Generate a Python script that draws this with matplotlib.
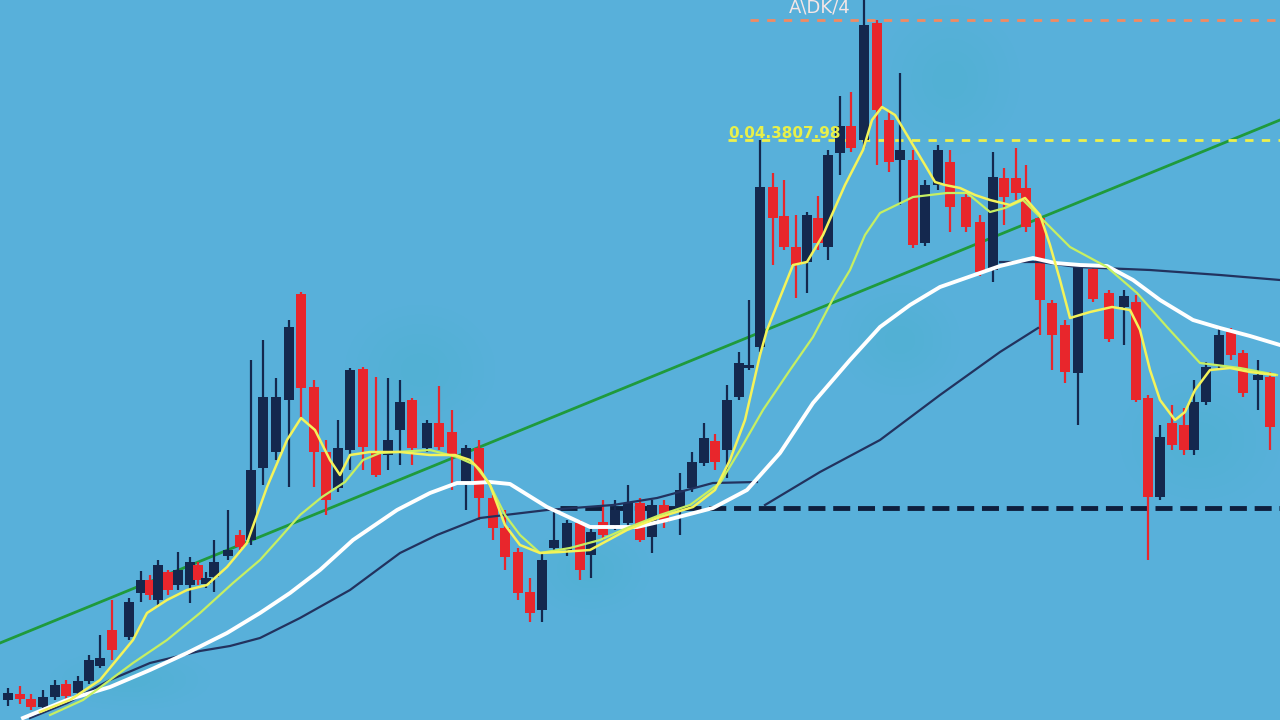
import matplotlib
matplotlib.use("Agg")
import matplotlib.pyplot as plt
import numpy as np

# candle positions (bar slot) and OHLC values (price units)
bar_x = [8, 20, 31, 43, 55, 66, 78, 89, 100, 112, 129, 141, 150, 158, 168, 178, 190, 198, 206, 214,
         228, 240, 251, 263, 276, 289, 301, 314, 326, 338, 350, 363, 376, 388, 400, 412, 427, 439, 452, 466,
         479, 493, 505, 518, 530, 542, 554, 567, 580, 591, 603, 615, 628, 640, 652, 664, 680, 692, 704, 715,
         727, 739, 749, 760, 773, 784, 796, 807, 818, 828, 840, 851, 864, 877, 889, 900, 913, 925, 938, 950,
         966, 980, 993, 1004, 1016, 1026, 1040, 1052, 1065, 1078, 1093, 1109, 1124, 1136, 1148, 1160, 1172, 1184, 1194, 1206,
         1219, 1231, 1243, 1258, 1270]
opens = [20, 26, 21, 13, 23, 36, 27, 39, 54, 90, 83, 127, 140, 120, 148, 135, 135, 155, 136, 143,
         164, 185, 180, 252, 268, 320, 426, 333, 268, 232, 270, 351, 268, 265, 290, 320, 272, 297, 288, 237,
         272, 222, 192, 168, 128, 110, 172, 170, 197, 165, 198, 195, 197, 217, 183, 215, 210, 232, 257, 279,
         270, 323, 352, 373, 533, 504, 473, 458, 502, 473, 567, 594, 580, 697, 600, 560, 560, 477, 535, 558,
         523, 498, 450, 542, 542, 532, 502, 417, 395, 347, 451, 427, 413, 418, 322, 223, 297, 295, 270, 318,
         355, 388, 367, 340, 343]
highs = [32, 34, 26, 30, 40, 40, 44, 65, 85, 120, 122, 149, 145, 160, 150, 168, 163, 158, 148, 180,
         210, 190, 360, 380, 342, 400, 428, 340, 280, 300, 352, 353, 343, 342, 340, 322, 300, 334, 310, 275,
         280, 225, 210, 172, 142, 168, 208, 200, 200, 192, 220, 220, 235, 222, 220, 220, 247, 268, 297, 286,
         335, 368, 420, 580, 547, 540, 505, 508, 524, 570, 624, 628, 720, 700, 610, 647, 570, 540, 575, 570,
         530, 505, 568, 552, 572, 555, 505, 420, 400, 455, 454, 430, 430, 425, 325, 295, 315, 312, 340, 358,
         392, 392, 370, 360, 348]
lows = [14, 16, 10, 8, 20, 20, 23, 36, 52, 60, 80, 118, 120, 115, 125, 130, 117, 135, 132, 128,
        160, 170, 175, 235, 260, 233, 302, 233, 205, 228, 250, 250, 243, 250, 255, 255, 268, 270, 230, 210,
        200, 180, 150, 120, 98, 98, 170, 164, 140, 142, 180, 190, 193, 178, 167, 192, 185, 228, 254, 250,
        242, 320, 350, 368, 455, 470, 422, 427, 470, 460, 545, 568, 572, 555, 548, 515, 472, 474, 530, 488,
        488, 444, 438, 495, 520, 488, 385, 350, 337, 295, 418, 378, 375, 318, 160, 220, 270, 265, 265, 315,
        352, 360, 323, 310, 270]
closes = [27, 21, 13, 23, 35, 24, 39, 60, 62, 70, 118, 140, 125, 155, 130, 150, 158, 140, 142, 158,
          170, 173, 250, 323, 323, 393, 332, 268, 220, 272, 350, 273, 245, 280, 318, 272, 297, 273, 265, 272,
          222, 192, 163, 127, 107, 160, 180, 197, 150, 188, 185, 210, 217, 180, 215, 198, 230, 258, 282, 258,
          320, 357, 355, 533, 502, 473, 455, 505, 477, 565, 594, 572, 695, 610, 558, 570, 475, 535, 570, 513,
          493, 448, 543, 523, 527, 493, 420, 385, 348, 453, 421, 381, 424, 320, 223, 283, 275, 270, 318, 353,
          385, 365, 327, 345, 293]

# moving-average style lines
fast_x = [40, 70, 100, 133, 147, 167, 187, 207, 227, 247, 267, 287, 301, 315, 330, 340, 350, 370, 400, 430,
          455, 470, 480, 490, 505, 520, 540, 560, 590, 627, 660, 693, 715, 730, 745, 760, 767, 793, 807, 823,
          845, 863, 872, 882, 895, 910, 925, 935, 945, 960, 975, 990, 1010, 1025, 1040, 1050, 1060, 1070, 1090, 1112,
          1130, 1140, 1150, 1160, 1175, 1185, 1195, 1210, 1230, 1250, 1275]
fast_y = [8, 20, 40, 80, 107, 120, 130, 135, 153, 177, 233, 280, 302, 290, 260, 245, 265, 268, 268, 265,
          265, 260, 250, 235, 195, 175, 167, 168, 170, 190, 203, 213, 230, 260, 300, 365, 390, 455, 458, 485,
          535, 570, 600, 613, 605, 580, 555, 538, 535, 532, 525, 520, 515, 522, 505, 475, 440, 402, 408, 413,
          410, 390, 350, 320, 300, 308, 330, 350, 352, 348, 345]

mid_x = [50, 83, 133, 167, 200, 233, 260, 278, 300, 322, 345, 363, 380, 430, 457, 475, 490, 505, 520, 540,
         570, 600, 627, 660, 690, 720, 740, 763, 790, 813, 835, 850, 865, 880, 913, 947, 967, 990, 1005, 1023,
         1045, 1070, 1107, 1137, 1167, 1200, 1240, 1277]
mid_y = [5, 20, 57, 80, 107, 137, 160, 180, 205, 223, 238, 260, 267, 270, 263, 255, 235, 205, 185, 167,
         172, 180, 192, 205, 215, 237, 270, 310, 350, 383, 425, 450, 485, 507, 523, 527, 527, 508, 512, 520,
         498, 473, 453, 427, 393, 357, 352, 345]

white_x = [23, 67, 110, 150, 187, 227, 260, 290, 320, 353, 397, 430, 457, 473, 490, 510, 547, 590, 637, 667,
           713, 747, 780, 813, 850, 880, 910, 940, 980, 1000, 1033, 1055, 1080, 1107, 1133, 1160, 1193, 1220, 1250, 1280]
white_y = [2, 20, 33, 50, 67, 87, 107, 127, 150, 180, 210, 227, 237, 237, 238, 236, 213, 193, 193, 200,
           212, 230, 267, 317, 360, 393, 415, 433, 447, 454, 462, 457, 455, 454, 440, 420, 400, 392, 384, 375]

slow_x = [30, 67, 110, 150, 200, 230, 260, 300, 350, 400, 437, 480, 547, 613, 657, 713, 757,
          None, 765, 820, 880, 940, 1000, 1038,
          None, 1000, 1040, 1077, 1150, 1220, 1280]
slow_y = [2, 17, 40, 57, 69, 74, 82, 102, 130, 167, 185, 202, 210, 215, 222, 237, 238,
          None, 215, 248, 280, 325, 368, 392,
          None, 458, 458, 453, 450, 445, 440]

trend_x = [0, 1280]
trend_y = [77, 600]

# horizontal levels: (price, start x)
level_top = 700
level_top_start = 750
level_mid = 580
level_mid_start = 728
level_low = 212
level_low_start = 560

BG = "#58b0da"
NAVY = "#14284e"
RED = "#e8262c"

fig = plt.figure(figsize=(12.8, 7.2), dpi=100, facecolor=BG)
ax = fig.add_axes([0, 0, 1, 1], facecolor=BG)
ax.set_xlim(0, 1280)
ax.set_ylim(0, 720)
ax.axis("off")

# soft lighter patches in the backdrop
for cx, cy, w, h in [(420, 350, 150, 130), (950, 640, 140, 150), (900, 380, 120, 110),
                     (1200, 280, 160, 140), (590, 150, 120, 90), (130, 40, 160, 60)]:
    for k in range(6):
        s = 1 - k * 0.15
        ax.add_patch(matplotlib.patches.Ellipse((cx, cy), w * s, h * s, color="#52c0cc",
                                                alpha=0.06, lw=0, zorder=0))

ax.plot(trend_x, trend_y, color="#1f9a3c", lw=2, zorder=2)

ax.hlines(level_low, level_low_start, 1280, colors="#0e1f3e", lw=3.5,
          linestyles=(0, (3.5, 1.6)), zorder=2)
ax.hlines(level_mid, level_mid_start, 1280, colors="#eef04c", lw=2,
          linestyles=(0, (3, 3)), zorder=2)
ax.hlines(level_top, level_top_start, 1280, colors="#f28a62", lw=2,
          linestyles=(0, (3, 3)), zorder=2)

o = np.array(opens)
c = np.array(closes)
colors = [NAVY if cc >= oo else RED for oo, cc in zip(o, c)]
ax.vlines(bar_x, lows, highs, colors=colors, lw=1.6, zorder=3)
ax.bar(bar_x, np.maximum(np.abs(c - o), 2), bottom=np.minimum(o, c), width=10,
       color=colors, zorder=4)

sx = np.array([np.nan if v is None else v for v in slow_x], dtype=float)
sy = np.array([np.nan if v is None else v for v in slow_y], dtype=float)
ax.plot(sx, sy, color="#22325e", lw=1.6, zorder=5, solid_joinstyle="round")
ax.plot(white_x, white_y, color="white", lw=2.8, zorder=5, solid_joinstyle="round")
ax.plot(mid_x, mid_y, color="#c6ef62", lw=1.6, zorder=6, solid_joinstyle="round")
ax.plot(fast_x, fast_y, color="#f4f35a", lw=1.8, zorder=6, solid_joinstyle="round")

ax.text(820, 712, "A\\DK/4", color="#f5e6e6", fontsize=13, ha="center", va="center", zorder=7)
ax.text(728, 587, "0.04.3807.98", color="#e8f04a", fontsize=11, fontweight="bold",
        ha="left", va="center", zorder=7)

fig.savefig("out.png", dpi=100, facecolor=BG)
plt.close(fig)
